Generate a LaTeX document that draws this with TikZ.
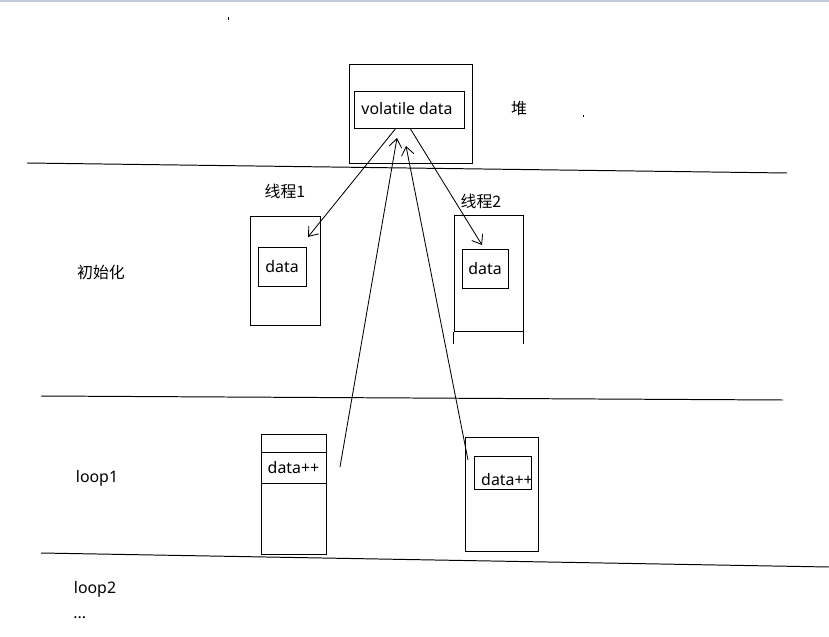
\documentclass[tikz,border=0pt]{standalone}
\usepackage{fontspec}
\setmainfont{Noto Sans}
\newfontfamily\cjk{Noto Sans CJK SC}
\usetikzlibrary{arrows.meta,positioning}

\begin{document}
\begin{tikzpicture}[
    x=0.025cm, y=-0.025cm,
    box/.style={draw, rectangle, line width=0.7pt, inner sep=0pt},
    txt/.style={inner sep=0pt, font=\fontsize{11.3}{13}\selectfont},
    cjktxt/.style={inner sep=0pt, font=\cjk\fontsize{11.3}{13}\selectfont},
    arr/.style={-{Straight Barb[length=6pt,width=9pt]}, line width=0.6pt},
    sep/.style={line width=0.7pt},
]
\useasboundingbox (0,0) rectangle (829,637);
\fill[fill={rgb,255:red,192;green,203;blue,220}] (0,0) rectangle (829,2.5);
\fill (227.5,17.5) rectangle (229,20);
\fill (582.5,115) rectangle (584,117.5);

% Heap
\node[box, minimum width=3.05cm, minimum height=2.45cm] (heap) at (411,114) {};
\node[box, minimum width=2.725cm, minimum height=0.925cm] (heapvar) at (409.5,109.5) {};
\node[txt] (heaptxt) at (407,109) {volatile data};
\node[cjktxt] (heaplbl) at (519,109) {堆};

% Separators
\draw[sep] (27,163) -- (787,173);
\draw[sep] (41,396) -- (783,400);
\draw[sep] (41,553) -- (829,567);

% Threads (init)
\node[cjktxt] (t1lbl) at (285,191) {线程1};
\node[cjktxt] (t2lbl) at (481,201) {线程2};
\node[box, minimum width=1.75cm, minimum height=2.7cm] (t1) at (285,271) {};
\node[box, minimum width=1.2cm, minimum height=0.975cm, txt] (t1data) at (282,266.5) {data};
\node[box, minimum width=1.725cm, minimum height=2.875cm] (t2) at (488.5,273.5) {};
\draw[sep] (t2.south west) -- ++(0,12);
\draw[sep] (t2.south east) -- ++(0,12);
\node[box, minimum width=1.15cm, minimum height=0.975cm, txt] (t2data) at (485,268.5) {data};
\node[cjktxt] (initlbl) at (101,272) {初始化};

% Loop 1
\node[box, minimum width=1.625cm, minimum height=2.975cm] (l1) at (293.5,494.5) {};
\node[box, minimum width=1.625cm, minimum height=0.775cm, txt] (l1data) at (293.5,467.5) {data++};
\node[box, minimum width=1.825cm, minimum height=2.825cm] (l2) at (501.5,494.5) {};
\node[box, minimum width=1.425cm, minimum height=0.825cm] (l2data) at (502.5,472.5) {};
\node[txt] (l2txt) at (507,480) {data++};
\node[txt] (loop1lbl) at (97,478) {loop1};
\node[txt] (loop2lbl) at (95,589) {loop2};
\node[txt, anchor=west] (dots) at (73,618) {...};

% Arrows
\coordinate (t1in) at (308,237);
\coordinate (t2in) at (482,245);
\coordinate (l1up) at (340,467);
\coordinate (l2up) at (468,460);
\coordinate (hin1) at (397,138);
\coordinate (hin2) at (406,146);
\draw[arr] (heapvar.234) -- (t1in);
\draw[arr] (heapvar.272) -- (t2in);
\draw[arr] (l1up) -- (hin1);
\draw[arr] (l2up) -- (hin2);

\end{tikzpicture}
\end{document}
